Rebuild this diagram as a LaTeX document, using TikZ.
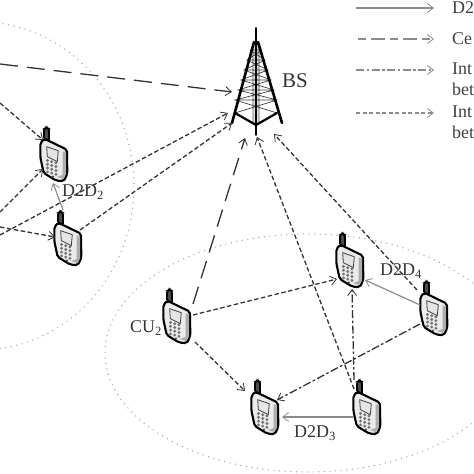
\documentclass[tikz,border=0pt]{standalone}
\usepackage{fontspec}
\setmainfont{Liberation Serif}
\usetikzlibrary{arrows.meta}
\definecolor{lk}{gray}{0.2}
\tikzset{
 x=1bp,y=-1bp,
 tip/.style={-{Straight Barb[length=6bp,width=9bp,line width=0.8bp]}},
 d2dl/.style={tip,draw=gray!90,line width=1.2bp},
 cell/.style={tip,draw=lk,line width=1.3bp,dash pattern=on 18bp off 9bp},
 intera/.style={tip,draw=lk,line width=1.3bp,dash pattern=on 8bp off 2.5bp on 2.5bp off 2.5bp},
 interb/.style={tip,draw=lk,line width=1.3bp,dash pattern=on 4.5bp off 2.5bp},
 zone/.style={draw=gray!75,line width=1.4bp,line cap=round,dash pattern=on 0bp off 5.6bp},
 lab/.style={inner sep=0pt,font=\fontsize{18}{18}\selectfont,text=black!80},
 leg/.style={inner sep=0pt,anchor=base west,font=\fontsize{18}{18}\selectfont,text=black!75},
 phone/.pic={
  \draw[black,line width=1.8bp,fill=black!70,rounded corners=1.5bp] (-10,-17)--(-10,-27)--(-7.5,-28.5)--(-5,-27)--(-5,-15)--cycle;
  \draw[black,line width=2.1bp,fill=black!8,rounded corners=2bp]
    (-13.7,-13)--(-9.7,-17.3)--(13,-6.3)--(13.3,18)--(9.7,25.3)--(2,24.5)--(-10.3,17)--(-13.7,1.3)--cycle;
  \fill[black!32] (8.5,-4.5)--(12,-4)--(12,18)--(9,23)--(3,21)--(8.5,19)--cycle;
  \draw[black!75,line width=0.8bp,fill=black!10] (-7.3,-9.3)--(4.3,-5.3)--(3.3,5.7)--(-6.7,0.7)--cycle;
  \foreach \r in {0,1,2,3}\foreach \c in {0,1,2}
    \fill[black!55] ({-6.5+\c*4.2},{4.5+\r*3.8+\c*1.2}) circle (1.6bp);
  \fill[black!70] (-1,20.5) circle (1.1bp);
 }
}
\begin{document}
\begin{tikzpicture}
\useasboundingbox (0,0) rectangle (474,474);
\begin{scope}
\clip (0,0) rectangle (474,474);
\draw[zone] (-20,186) ellipse [x radius=154,y radius=164];
\draw[zone] (308,353) ellipse [x radius=203,y radius=119];
\end{scope}
% phones
\foreach \n/\x/\y in {cu/177/318,a/54/156,b/68/240,c/350/262,d/434/310,e/265/409,f/367/409}{
  \pic at (\x,\y) {phone};
  \coordinate (\n) at (\x,\y);
}
% tower
\begin{scope}[line cap=round]
\draw[black!75,line width=0.7bp]
  (250,50)--(262,50) (247,60)--(265,60) (244,70)--(268,70) (241,80)--(271,80) (238,90)--(274,90) (235,100)--(277,100)
  (250,50)--(265,60)--(244,70)--(271,80)--(238,90)--(277,100)--(235,113)
  (262,50)--(247,60)--(268,70)--(241,80)--(274,90)--(235,100)--(277,113)
  (253,45)--(253,122) (259,45)--(259,122);
\draw[black,line width=1.8bp] (256,28)--(256,48);
\draw[black,line width=2.6bp] (254,42)--(232,123) (258,42)--(282,123);
\draw[black,line width=2.2bp] (256,42)--(256,125) (235,113)--(256,125)--(277,113);
\draw[black,line width=1.8bp] (256,125)--(256,135);
\end{scope}
\node[lab,font=\fontsize{21}{21}\selectfont] (bs) at (295,81) {BS};
\node[lab] (l2) at (83,192) {D2D\textsubscript{2}};
\node[lab] (l4) at (401,271) {D2D\textsubscript{4}};
\node[lab] (l3) at (315,433) {D2D\textsubscript{3}};
\node[lab] (lc) at (146,328) {CU\textsubscript{2}};
% connectors
\coordinate (t1) at (232,92);\coordinate (t2) at (245,138);
\coordinate (t3) at (228,113);\coordinate (t4) at (232,123);
\coordinate (t5) at (257,137);\coordinate (t6) at (274,134);
\coordinate (w1) at (0,64);\coordinate (w2) at (0,103);\coordinate (w3) at (0,212);
\coordinate (w4) at (0,235);\coordinate (w5) at (0,227);
\draw[d2dl] ([shift={(-5,-30)}]b) -- ([shift={(-1,27)}]a);
\draw[d2dl] ([shift={(-14,-5)}]d) -- ([shift={(15,18)}]c);
\draw[d2dl] ([shift={(-13,8)}]f) -- ([shift={(17,8)}]e);
\draw[cell] (w1) -- (t1);
\draw[cell] ([shift={(16,-14)}]cu) -- (t2);
\draw[interb] (w2) -- ([shift={(-11,-16)}]a);
\draw[interb] (w3) -- ([shift={(-11,13)}]a);
\draw[interb] (w4) -- (t3);
\draw[interb] ([shift={(12,-10)}]b) -- (t4);
\draw[interb] (w5) -- ([shift={(-13,-3)}]b);
\draw[interb] ([shift={(-13,-20)}]f) -- (t5);
\draw[interb] ([shift={(-17,-20)}]d) -- (t6);
\draw[interb] ([shift={(16,-3)}]cu) -- ([shift={(-13,17)}]c);
\draw[interb] ([shift={(18,24)}]cu) -- ([shift={(-20,-18)}]e);
\draw[intera] ([shift={(-14,14)}]d) -- ([shift={(12,-9)}]e);
\draw[intera] ([shift={(-13,-29)}]f) -- ([shift={(2,27)}]c);
% legend
\coordinate (a1) at (356,8);\coordinate (a2) at (434,8);
\coordinate (b1) at (358,39);\coordinate (b2) at (434,39);
\coordinate (c1) at (356,70);\coordinate (c2) at (434,70);
\coordinate (d1) at (356,113);\coordinate (d2) at (434,113);
\draw[d2dl] (a1)--(a2);
\draw[tip,draw=gray!90,line width=1.3bp,dash pattern=on 8bp off 5bp on 14bp off 5bp] (b1)--(b2);
\draw[intera,draw=gray!90] (c1)--(c2);
\draw[interb,draw=gray!90,dash pattern=on 4bp off 2.5bp] (d1)--(d2);
\node[leg] (t1a) at (452,14) {D2};
\node[leg] (t2a) at (452,45) {Ce};
\node[leg] (t3a) at (452,75) {Int};
\node[leg] (t3b) at (452,96) {bet};
\node[leg] (t4a) at (452,118) {Int};
\node[leg] (t4b) at (452,139) {bet};
\end{tikzpicture}
\end{document}
